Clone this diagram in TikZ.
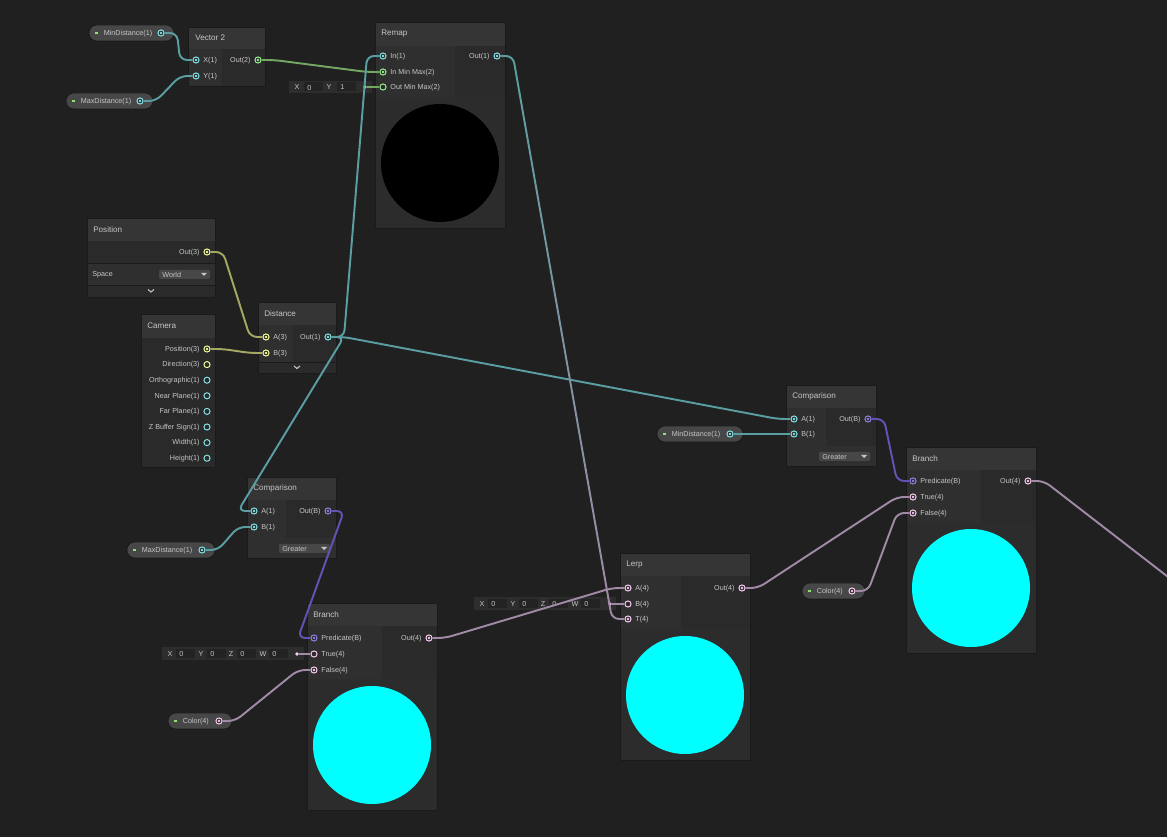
\documentclass[tikz,border=0pt]{standalone}
\usepackage{fontspec}
\setmainfont{Liberation Sans}
\usetikzlibrary{calc}
\definecolor{canvas}{HTML}{202020}
\definecolor{headfill}{HTML}{353535}
\definecolor{infill}{HTML}{2F2F2F}
\definecolor{outfill}{HTML}{2A2A2A}
\definecolor{viewfill}{HTML}{2C2C2C}
\definecolor{seam}{HTML}{1A1A1A}
\definecolor{pillfill}{HTML}{474747}
\definecolor{fieldfill}{HTML}{2D2D2D}
\definecolor{valfill}{HTML}{232323}
\definecolor{menufill}{HTML}{474747}
\definecolor{txt}{HTML}{C6C6C6}
\definecolor{floatport}{HTML}{84E4E7}
\definecolor{vectwo}{HTML}{9AEF92}
\definecolor{vecthree}{HTML}{F6FF9A}
\definecolor{vecfour}{HTML}{FBCBF4}
\definecolor{boolport}{HTML}{9481E6}
\definecolor{floatwire}{HTML}{5A9EA2}
\definecolor{twowire}{HTML}{72A862}
\definecolor{threewire}{HTML}{A4A862}
\definecolor{fourwire}{HTML}{A08AA6}
\definecolor{boolwire}{HTML}{6452B4}
\definecolor{prop}{HTML}{8FE36B}
\definecolor{preview}{HTML}{00FFFF}

\begin{document}
\begin{tikzpicture}[x=.02cm,y=-.02cm,
 every node/.style={inner sep=0pt},
 ttl/.style={anchor=west,text=txt,font=\fontsize{4.6}{5.5}\selectfont},
 plbl/.style={text=txt,font=\fontsize{4.1}{5}\selectfont,yshift=-.3pt},
 lbl/.style={plbl,anchor=west},
 ipin/.style={label={[plbl,label distance=2pt]right:#1}},
 opin/.style={label={[plbl,label distance=2pt]left:#1}},
 port/.style={circle,minimum size=3.5pt,draw=#1,line width=.55pt,fill=outfill},
 used/.style={port=#1,path picture={\fill[#1] (path picture bounding box.center) circle (.8pt);}},
 frame/.style={draw=seam,line width=.5pt},
 pill/.style={fill=pillfill,draw=seam,line width=.4pt,rounded corners=4.4pt},
 menu/.style={fill=menufill,rounded corners=.6pt},
 chevron/.style={draw=txt,line width=.6pt},
 dot/.style={circle,fill=#1,minimum size=2.2pt},
 stub/.style={line width=1.1pt},
 wire/.style={line width=1.1pt,rounded corners=4pt,
   to path={-- ++(16,0) -- ($(\tikztotarget)+(-16,0)$) -- (\tikztotarget)}}]
\path[use as bounding box,fill=canvas] (0,0) rectangle (1167,837);

% property pills
\foreach \n/\l/\r/\y/\t/\c in {minA/89/174/33/MinDistance(1)/floatport,
    maxA/66/153/101/MaxDistance(1)/floatport, maxB/127/215/550/MaxDistance(1)/floatport,
    minB/657/743/434/MinDistance(1)/floatport, colA/168/232/721/Color(4)/vecfour,
    colB/802/865/591/Color(4)/vecfour}{
  \path[pill] (\l,\y-8) rectangle (\r,\y+8);
  \fill[prop] (\l+6,\y-1.3) rectangle (\l+8.6,\y+1.3);
  \node[lbl] (\n-t) at (\l+14.5,\y) {\t};
  \node[used=\c] (\n) at (\r-13,\y) {};
}

% Vector 2
\fill[headfill] (188,27) rectangle (265,49);
\fill[infill] (188,49) rectangle (222,86);
\fill[outfill] (222,49) rectangle (265,86);
\draw[frame] (188,27) rectangle (265,86);
\node[ttl] (vec) at (195,38) {Vector 2};
\node[used=floatport,ipin=X(1)] (vec-x) at (196,60) {};
\node[used=floatport,ipin=Y(1)] (vec-y) at (196,76) {};
\node[used=vectwo,opin=Out(2)] (vec-out) at (258,60) {};

% Remap
\fill[headfill] (375,22) rectangle (505,46);
\fill[infill] (375,46) rectangle (455,97);
\fill[outfill] (455,46) rectangle (505,97);
\fill[viewfill] (375,97) rectangle (505,228);
\draw[frame] (375,22) rectangle (505,228);
\fill[black] (440,163) circle (59);
\node[ttl] (remap) at (381,34) {Remap};
\node[used=floatport,ipin=In(1)] (remap-in) at (383,56) {};
\node[used=vectwo,ipin=In Min Max(2)] (remap-imm) at (383,72) {};
\node[port=vectwo,ipin=Out Min Max(2)] (remap-omm) at (383,87) {};
\node[used=floatport,opin=Out(1)] (remap-out) at (497,56) {};
\fill[fieldfill] (289,81) rectangle (372,93);
\node[plbl] (remap-fx) at (297,87) {X};
\fill[valfill] (304,82.5) rectangle (323,91.5);
\node[lbl] (remap-vx) at (307,87) {0};
\node[plbl] (remap-fy) at (329,87) {Y};
\fill[valfill] (337,82.5) rectangle (356,91.5);
\node[lbl] (remap-vy) at (340,87) {1};
\node[dot=vectwo] (remap-dot) at (365,87) {};

% Position
\fill[headfill] (87,218) rectangle (215,241);
\fill[outfill] (87,241) rectangle (215,263);
\fill[infill] (87,263) rectangle (215,285);
\fill[outfill] (87,285) rectangle (215,297);
\draw[frame] (87,263) -- (215,263) (87,285) -- (215,285);
\draw[frame] (87,218) rectangle (215,297);
\node[ttl] (pos) at (93,229.5) {Position};
\node[used=vecthree,opin=Out(3)] (pos-out) at (207,252) {};
\node[lbl] (pos-space) at (92,274) {Space};
\path[menu] (159,270) rectangle (210,279);
\node[lbl] (pos-world) at (162,274.5) {World};
\fill[txt] (201,273) -- (207,273) -- (204,276) -- cycle;
\draw[chevron] (148,289.5) -- (151,292) -- (154,289.5);

% Camera
\fill[headfill] (141,314) rectangle (215,338);
\fill[outfill] (141,338) rectangle (215,467);
\draw[frame] (141,314) rectangle (215,467);
\node[ttl] (cam) at (147,326) {Camera};
\node[used=vecthree,opin=Position(3)] (cam-pos) at (207,349) {};
\foreach \k/\t/\c in {1/Direction(3)/vecthree, 2/Orthographic(1)/floatport,
    3/Near Plane(1)/floatport, 4/Far Plane(1)/floatport, 5/Z Buffer Sign(1)/floatport,
    6/Width(1)/floatport, 7/Height(1)/floatport}
  \node[port=\c,opin=\t] (cam-\k) at (207,349+15.6*\k) {};

% Distance
\fill[headfill] (258,302) rectangle (336,325);
\fill[infill] (258,325) rectangle (293,362);
\fill[outfill] (293,325) rectangle (336,362);
\fill[outfill] (258,362) rectangle (336,373);
\draw[frame] (258,362) -- (336,362);
\draw[frame] (258,302) rectangle (336,373);
\node[ttl] (dist) at (264,313.5) {Distance};
\node[used=vecthree,ipin=A(3)] (dist-a) at (266,337) {};
\node[used=vecthree,ipin=B(3)] (dist-b) at (266,353) {};
\node[used=floatport,opin=Out(1)] (dist-out) at (328,337) {};
\draw[chevron] (294,366) -- (297,368.5) -- (300,366);

% Comparison (left)
\fill[headfill] (247,477) rectangle (336,500);
\fill[infill] (247,500) rectangle (286,538);
\fill[outfill] (286,500) rectangle (336,538);
\fill[infill] (247,538) rectangle (336,558);
\draw[frame] (247,477) rectangle (336,558);
\node[ttl] (cmpl) at (253,488.5) {Comparison};
\node[used=floatport,ipin=A(1)] (cmpl-a) at (254,511) {};
\node[used=floatport,ipin=B(1)] (cmpl-b) at (254,527) {};
\node[used=boolport,opin=Out(B)] (cmpl-out) at (328,511) {};
\path[menu] (279,544) rectangle (330,553);
\node[lbl] (cmpl-mode) at (282,548.5) {Greater};
\fill[txt] (321,547) -- (327,547) -- (324,550) -- cycle;

% Comparison (right)
\fill[headfill] (786,385) rectangle (876,408);
\fill[infill] (786,408) rectangle (826,446);
\fill[outfill] (826,408) rectangle (876,446);
\fill[infill] (786,446) rectangle (876,466);
\draw[frame] (786,385) rectangle (876,466);
\node[ttl] (cmpr) at (792,396.5) {Comparison};
\node[used=floatport,ipin=A(1)] (cmpr-a) at (794,419) {};
\node[used=floatport,ipin=B(1)] (cmpr-b) at (794,434) {};
\node[used=boolport,opin=Out(B)] (cmpr-out) at (868,419) {};
\path[menu] (819,452) rectangle (870,461);
\node[lbl] (cmpr-mode) at (822,456.5) {Greater};
\fill[txt] (861,455) -- (867,455) -- (864,458) -- cycle;

% Branch (bottom)
\fill[headfill] (307,603) rectangle (437,626);
\fill[infill] (307,626) rectangle (382,679);
\fill[outfill] (382,626) rectangle (437,679);
\fill[viewfill] (307,679) rectangle (437,810);
\draw[frame] (307,603) rectangle (437,810);
\fill[preview] (372,745) circle (59);
\node[ttl] (brb) at (313,614.5) {Branch};
\node[used=boolport,ipin=Predicate(B)] (brb-pred) at (314,638) {};
\node[port=vecfour,ipin=True(4)] (brb-true) at (314,654) {};
\node[used=vecfour,ipin=False(4)] (brb-false) at (314,670) {};
\node[used=vecfour,opin=Out(4)] (brb-out) at (429,638) {};
\fill[fieldfill] (162,647) rectangle (304,660);
\foreach \c/\o in {X/0,Y/31,Z/61,W/93}{
  \node[plbl] (brb-f\c) at (170+\o,653.5) {\c};
  \fill[valfill] (176+\o,649) rectangle (195+\o,658);
  \node[lbl] (brb-v\c) at (179+\o,653.5) {0};
}
\node[dot=vecfour] (brb-dot) at (297,654) {};

% Lerp
\fill[headfill] (620,553) rectangle (750,576);
\fill[infill] (620,576) rectangle (681,629);
\fill[outfill] (681,576) rectangle (750,629);
\fill[viewfill] (620,629) rectangle (750,760);
\draw[frame] (620,553) rectangle (750,760);
\fill[preview] (685,695) circle (59);
\node[ttl] (lerp) at (626,564.5) {Lerp};
\node[used=vecfour,ipin=A(4)] (lerp-a) at (628,588) {};
\node[port=vecfour,ipin=B(4)] (lerp-b) at (628,604) {};
\node[used=vecfour,ipin=T(4)] (lerp-t) at (628,619) {};
\node[used=vecfour,opin=Out(4)] (lerp-out) at (742,588) {};
\fill[fieldfill] (474,597) rectangle (616,610);
\foreach \c/\o in {X/0,Y/31,Z/61,W/93}{
  \node[plbl] (lerp-f\c) at (482+\o,603.5) {\c};
  \fill[valfill] (488+\o,599) rectangle (507+\o,608);
  \node[lbl] (lerp-v\c) at (491+\o,603.5) {0};
}
\node[dot=vecfour] (lerp-dot) at (610,604) {};

% Branch (right)
\fill[headfill] (906,447) rectangle (1036,470);
\fill[infill] (906,470) rectangle (981,523);
\fill[outfill] (981,470) rectangle (1036,523);
\fill[viewfill] (906,523) rectangle (1036,653);
\draw[frame] (906,447) rectangle (1036,653);
\fill[preview] (971,588) circle (59);
\node[ttl] (brr) at (912,458.5) {Branch};
\node[used=boolport,ipin=Predicate(B)] (brr-pred) at (913,481) {};
\node[used=vecfour,ipin=True(4)] (brr-true) at (913,497) {};
\node[used=vecfour,ipin=False(4)] (brr-false) at (913,513) {};
\node[used=vecfour,opin=Out(4)] (brr-out) at (1028,481) {};
\coordinate (brr-exit) at (1172,580);

% connections
\draw[wire,floatwire] (minA) to (vec-x);
\draw[wire,floatwire] (maxA) to (vec-y);
\draw[wire,twowire] (vec-out) to (remap-imm);
\draw[stub,twowire] (remap-dot) -- (remap-omm);
\draw[wire,threewire] (pos-out) to (dist-a);
\draw[wire,threewire] (cam-pos) to (dist-b);
\draw[wire,floatwire] (dist-out) to (remap-in);
\draw[wire,floatwire] (dist-out) to (cmpr-a);
\draw[wire,floatwire] (dist-out) to (cmpl-a);
\draw[wire,floatwire] (minB) to (cmpr-b);
\draw[wire,floatwire] (maxB) to (cmpl-b);
\foreach \k in {0,...,6}{
  \pgfmathtruncatemacro\share{100-16*\k}
  \begin{scope}
    \clip (480,94*\k) rectangle (700,94*\k+94);
    \draw[wire,floatwire!\share!fourwire] (remap-out) to (lerp-t);
  \end{scope}
}
\draw[wire,boolwire] (cmpl-out) to (brb-pred);
\draw[stub,fourwire] (brb-dot) -- (brb-true);
\draw[wire,fourwire] (colA) to (brb-false);
\draw[wire,fourwire] (brb-out) to (lerp-a);
\draw[stub,fourwire] (lerp-dot) -- (lerp-b);
\draw[wire,fourwire] (lerp-out) to (brr-true);
\draw[wire,fourwire] (colB) to (brr-false);
\draw[wire,boolwire] (cmpr-out) to (brr-pred);
\draw[stub,fourwire,rounded corners=4pt] (brr-out) -- ++(16,0) -- (brr-exit);
\end{tikzpicture}
\end{document}
